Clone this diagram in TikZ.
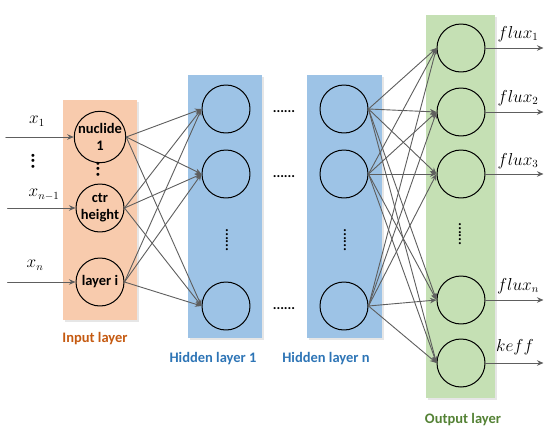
\documentclass[tikz,border=0pt]{standalone}
\usepackage{fontspec}
\newfontfamily\lbl{Carlito}
\usetikzlibrary{positioning,calc,arrows.meta,shadows}

\definecolor{inputfill}{HTML}{F8CBAD}
\definecolor{hiddenfill}{HTML}{9DC3E6}
\definecolor{outputfill}{HTML}{C5E0B4}
\definecolor{inputtext}{HTML}{C55A11}
\definecolor{hiddentext}{HTML}{2E75B6}
\definecolor{outputtext}{HTML}{548235}
\definecolor{linkgray}{HTML}{5E5E5E}

\begin{document}
\begin{tikzpicture}[x=1pt, y=-1pt, line cap=round, line join=round,
    neuron/.style={circle, draw=black, line width=1pt, minimum size=48pt, inner sep=0pt,
      align=center, font=\lbl\bfseries\fontsize{14.5}{17}\selectfont},
    layerbox/.style={rectangle, inner sep=0pt,
      drop shadow={opacity=0.2, shadow xshift=1.5pt, shadow yshift=-1.5pt}},
    layername/.style={font=\lbl\bfseries\fontsize{14.5}{15}\selectfont},
    link/.style={draw=linkgray, line width=0.9pt, -{Stealth[length=6.5pt,width=5.5pt]}},
    dotsh/.style={font=\lbl\bfseries\fontsize{14}{14}\selectfont, inner sep=0pt},
    dotsv/.style={dotsh, rotate=90},
    bigdots/.style={font=\lbl\bfseries\fontsize{20}{20}\selectfont, inner sep=0pt, rotate=90},
    mathlbl/.style={font=\fontsize{16}{16}\selectfont, inner sep=0pt}]
  \useasboundingbox (0,0) rectangle (550,434);

  % layer boxes
  \node[layerbox, fill=inputfill, minimum width=74pt, minimum height=220pt] (inbox) at (100,210) {};
  \node[layerbox, fill=hiddenfill, minimum width=74pt, minimum height=263pt] (habox) at (225,206.5) {};
  \node[layerbox, fill=hiddenfill, minimum width=75pt, minimum height=263pt] (hbbox) at (344.5,206.5) {};
  \node[layerbox, fill=outputfill, minimum width=69pt, minimum height=383pt] (outbox) at (460.5,206.5) {};

  % input neurons
  \node[neuron] (in1) at (100,137) {nuclide\\1};
  \node[neuron] (in2) at (100,208) {ctr\\height};
  \node[neuron] (in3) at (100,282) {layer i};
  \node[bigdots] (indots) at (98,169) {...};

  % hidden neurons
  \foreach \y [count=\k] in {109,174,306} {
    \node[neuron] (ha\k) at (226,\y) {};
    \node[neuron] (hb\k) at (344,\y) {};
    \node[dotsh] (gap\k) at (284,\y+3) {......};
  }
  \node[dotsv] (hadots) at (227,240) {......};
  \node[dotsv] (hbdots) at (345,240) {......};

  % output neurons
  \foreach \y [count=\k] in {48,112,174,300,363}
    \node[neuron] (out\k) at (461,\y) {};
  \node[dotsv] (outdots) at (460,234) {......};

  % connections
  \foreach \i in {1,2,3}
    \foreach \j in {1,2,3}
      \draw[link] (in\i.east) -- (ha\j.west);
  \foreach \i in {1,2,3}
    \foreach \j in {1,...,5}
      \draw[link] (hb\i.east) -- (out\j.west);

  % inputs
  \foreach \k in {1,2,3} {
    \coordinate (src\k) at ($(in\k.west)+(-68,0)$);
    \draw[link] (src\k) -- (in\k.west);
  }
  \node[mathlbl] (lx1) at (37,121) {$x_1$};
  \node[mathlbl] (lx2) at (44,195) {$x_{n-1}$};
  \node[mathlbl] (lx3) at (35,265) {$x_n$};
  \node[bigdots] (srcdots) at (33,161) {...};

  % outputs
  \foreach \k in {1,...,5} {
    \coordinate (dst\k) at ($(out\k.east)+(58,0)$);
    \draw[link] (out\k.east) -- (dst\k);
  }
  \node[mathlbl] (lf1) at (518,34) {$flux_1$};
  \node[mathlbl] (lf2) at (518,98) {$flux_2$};
  \node[mathlbl] (lf3) at (518,161) {$flux_3$};
  \node[mathlbl] (lf4) at (518,286) {$flux_n$};
  \node[mathlbl] (lf5) at (515,347) {$keff$};

  % layer names
  \node[layername, text=inputtext] (nin) at (95,339) {Input layer};
  \node[layername, text=hiddentext] (nha) at (213,359) {Hidden layer 1};
  \node[layername, text=hiddentext] (nhb) at (326,359) {Hidden layer n};
  \node[layername, text=outputtext] (nout) at (463,420) {Output layer};
\end{tikzpicture}
\end{document}
